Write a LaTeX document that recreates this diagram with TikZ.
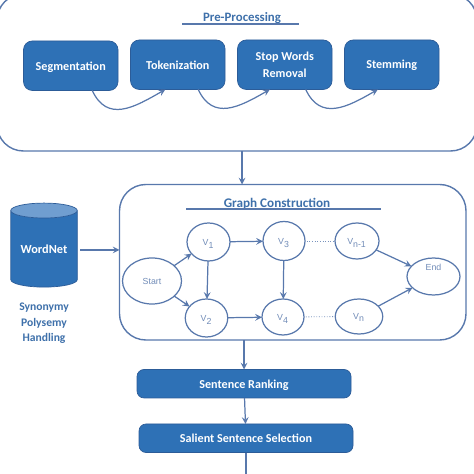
\documentclass[tikz,border=0pt]{standalone}
\usepackage{fontspec}
\setmainfont{Carlito}
\newfontfamily\graphfont{Liberation Sans}
\usepackage{xcolor}
\usetikzlibrary{shapes.geometric, arrows.meta, positioning}
\definecolor{boxblue}{RGB}{46,113,182}
\definecolor{boxedge}{RGB}{44,92,152}
\definecolor{lineblue}{RGB}{88,120,172}
\definecolor{titleblue}{RGB}{62,112,170}
\definecolor{topblue}{RGB}{112,158,208}

\begin{document}
\begin{tikzpicture}[
    node distance=0.24cm and 0.25cm,
    stage/.style={rectangle, draw=boxedge, fill=boxblue, rounded corners=5pt, minimum width=1.89cm, minimum height=0.99cm, align=center, text=white, text depth=0pt, font=\fontsize{6.9}{9.2}\selectfont\bfseries, inner sep=0pt, outer sep=0pt},
    wide/.style={stage, rounded corners=4pt, minimum width=4.28cm, minimum height=0.57cm},
    panel/.style={rectangle, draw=lineblue, line width=0.8pt, rounded corners=15pt, inner sep=0pt, outer sep=0pt},
    vertex/.style={ellipse, draw=lineblue, line width=0.7pt, fill=white, inner sep=0pt, outer sep=0pt, text=lineblue!85, text depth=0pt, font=\graphfont\fontsize{5}{6}\selectfont},
    heading/.style={text=titleblue, font=\fontsize{7.3}{9}\selectfont\bfseries, inner sep=0pt},
    arrow/.style={->, >=stealth, line width=0.7pt, draw=lineblue},
    curved/.style={arrow, out=-65, in=-150, looseness=1.25}
]
\useasboundingbox (0,0) rectangle (9.48,9.48);

% panels
\node[panel, minimum width=9.6cm, minimum height=3.14cm, anchor=south] (pre) at (4.74,6.46) {};
\node[panel, minimum width=6.93cm, minimum height=3.11cm, anchor=south west] (graph) at (2.39,2.68) {};

% pre-processing
\node[heading] (pretitle) at (4.84,9.12) {Pre-Processing};
\node[stage, anchor=north west] (seg) at (0.47,8.66) {Segmentation};
\node[stage, right=of seg, yshift=0.02cm] (tok) {Tokenization};
\node[stage, right=of tok] (stop) {Stop Words\\Removal};
\node[stage, right=of stop] (stem) {Stemming};

\coordinate (prea) at (3.64,9.0);
\coordinate (preb) at (5.98,9.0);
\draw[lineblue, line width=0.7pt] (prea) -- (preb);

\draw[curved] ([xshift=0.43cm]seg.south) to ([xshift=-0.25cm]tok.south);
\draw[curved] ([xshift=0.41cm]tok.south) to ([xshift=-0.3cm]stop.south);
\draw[curved] ([xshift=0.42cm]stop.south) to ([xshift=-0.28cm]stem.south);

% wordnet
\node[cylinder, shape border rotate=90, draw=boxedge, cylinder uses custom fill, cylinder body fill=boxblue, cylinder end fill=topblue, aspect=0.32, minimum width=1.33cm, minimum height=1.68cm, inner sep=0pt, outer sep=0pt, text=white, font=\fontsize{7}{9}\selectfont\bfseries] (wordnet) at (0.88,4.50) {WordNet};
\node[heading, align=center, below=0.31cm of wordnet, font=\fontsize{6.6}{8.8}\selectfont\bfseries] (synonymy) {Synonymy\\Polysemy\\Handling};
\coordinate (wordout) at (1.6,4.48);

% graph construction
\node[heading, font=\fontsize{7.5}{9}\selectfont\bfseries] (graphtitle) at (5.54,5.40) {Graph Construction};
\coordinate (grapha) at (3.72,5.3);
\coordinate (graphb) at (7.62,5.3);
\draw[lineblue, line width=0.7pt] (grapha) -- (graphb);

\node[vertex, minimum width=1.18cm, minimum height=0.92cm] (start) at (3.04,3.86) {Start};
\node[vertex, minimum width=0.86cm, minimum height=0.76cm] (v1) at (4.17,4.64) {V\textsubscript{1}};
\node[vertex, minimum width=0.85cm, minimum height=0.76cm] (v2) at (4.13,3.12) {V\textsubscript{2}};
\node[vertex, minimum width=0.84cm, minimum height=0.78cm] (v3) at (5.68,4.66) {V\textsubscript{3}};
\node[vertex, minimum width=0.84cm, minimum height=0.72cm] (v4) at (5.66,3.14) {V\textsubscript{4}};
\node[vertex, minimum width=0.88cm, minimum height=0.72cm] (vm) at (7.14,4.66) {V\textsubscript{n-1}};
\node[vertex, minimum width=0.95cm, minimum height=0.70cm] (vn) at (7.18,3.15) {V\textsubscript{n}};
\node[vertex, minimum width=1.06cm, minimum height=0.74cm] (end) at (8.67,3.95) {\smash{\raisebox{0.12cm}{End}}};

\draw[arrow] (start) -- (v1);
\draw[arrow] (start) -- (v2);
\draw[arrow] (v1) -- (v3);
\draw[arrow] (v1) -- (v2);
\draw[arrow] (v2) -- (v4);
\draw[arrow] (v3) -- (v4);
\draw[arrow] (vm) -- (end);
\draw[arrow] (vn) -- (end);
\draw[lineblue!80, line width=0.5pt, densely dotted, shorten <=1pt, shorten >=1pt] (v3) -- (vm);
\draw[lineblue!80, line width=0.5pt, densely dotted, shorten <=1pt, shorten >=1pt] (v4) -- (vn);

% ranking
\node[wide, anchor=north west] (rank) at (2.74,2.09) {Sentence Ranking};
\node[wide, below=0.52cm of rank, xshift=0.04cm] (salient) {Salient Sentence Selection};
\coordinate (bottom) at (salient.south |- 0,0);

\draw[arrow] (4.84,6.46) coordinate (preout) -- (preout |- graph.north);
\draw[arrow] (wordout) -- (wordout -| graph.west);
\draw[arrow] (graph.south -| rank.north) -- (rank);
\draw[arrow] (rank) -- (salient);
\draw[lineblue, line width=0.7pt] (salient) -- (bottom);

\end{tikzpicture}
\end{document}
